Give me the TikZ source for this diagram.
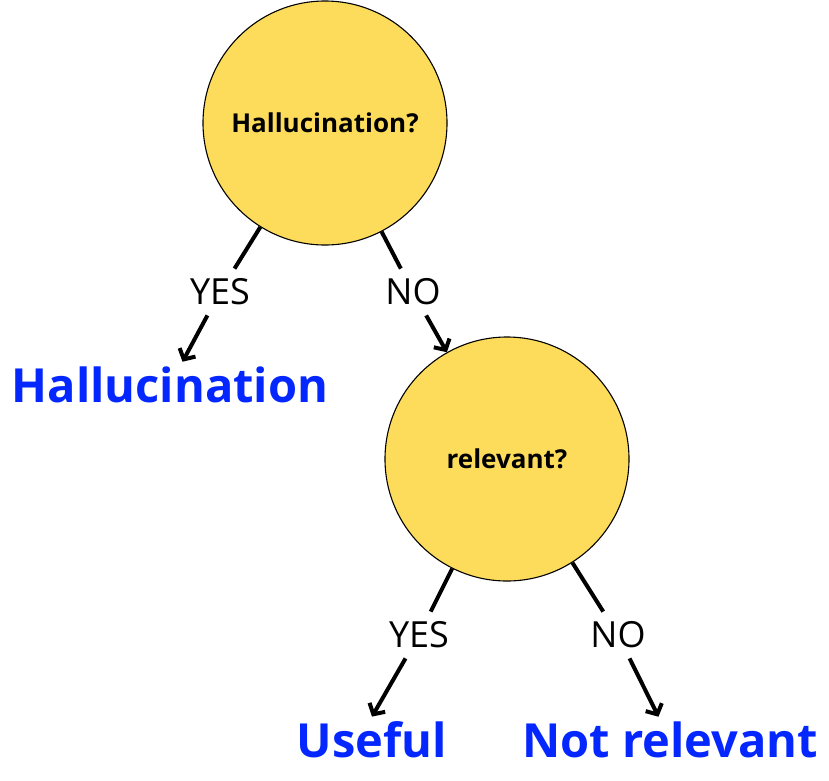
\documentclass[tikz,border=0pt]{standalone}
\usepackage{fontspec}
\setmainfont{Open Sans}
\usetikzlibrary{arrows.meta}
\definecolor{qyellow}{HTML}{FDDC5C}
\definecolor{ablue}{HTML}{0527FF}
\begin{document}
\begin{tikzpicture}[x=1pt,y=-1pt,
  question/.style={circle,draw=black,line width=1.1pt,fill=qyellow,minimum size=244pt,inner sep=0pt,
    font=\fontsize{26}{30}\selectfont\bfseries},
  answer/.style={text=ablue,font=\fontsize{47}{56}\selectfont\bfseries,inner sep=5pt},
  choice/.style={font=\fontsize{36}{40}\selectfont,inner sep=10pt},
  link/.style={line width=4pt},
  arr/.style={line width=4pt,-{Straight Barb[length=8pt,width=18pt,line width=4pt]}}]
\useasboundingbox (0,0) rectangle (829,780);
\node[question] (q1) at (325,123) {Hallucination?};
\node[question] (q2) at (507,459) {relevant?};
\node[choice] (yes1) at (220,292) {YES};
\node[choice] (no1) at (413,292) {NO};
\node[choice] (yes2) at (419,635) {YES};
\node[choice] (no2) at (618,635) {NO};
\node[answer] (hall) at (170,385) {Hallucination};
\node[answer] (useful) at (372,740) {Useful};
\node[answer] (nr) at (670,740) {Not relevant};
\draw[link] (q1) -- (yes1);
\draw[arr] (yes1) -- (hall);
\draw[link] (q1) -- (no1);
\draw[arr] (no1) -- (q2);
\draw[link] (q2) -- (yes2);
\draw[arr] (yes2) -- (useful.north);
\draw[link] (q2) -- (no2);
\draw[arr] (no2) -- (nr);
\end{tikzpicture}
\end{document}
